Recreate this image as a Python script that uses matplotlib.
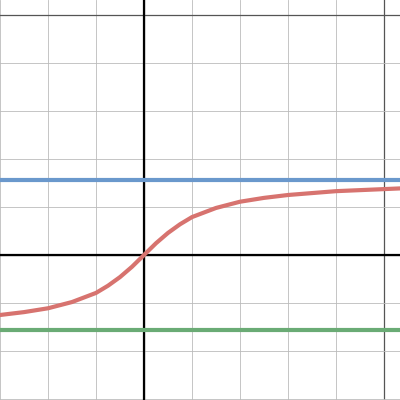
import matplotlib.pyplot as plt

# points
curve_x = [-3, -2.5, -2, -1.5, -1, -0.75, -0.5, -0.25, 0, 0.25, 0.5, 0.75, 1, 1.5, 2, 2.5, 3, 4, 5.4]
curve_y = [-1.25, -1.19, -1.11, -0.98, -0.79, -0.64, -0.46, -0.245, 0, 0.245, 0.46, 0.64, 0.79,
           0.98, 1.11, 1.19, 1.25, 1.33, 1.39]
upper_level = 1.5708
lower_level = -1.5708

fig = plt.figure(figsize=(4, 4), dpi=100)
ax = fig.add_axes([0, 0, 1, 1])
xmin, xmax = -3.0, 400 / 48 - 3.0
ymin, ymax = -145 / 48, 255 / 48
ax.set_xlim(xmin, xmax)
ax.set_ylim(ymin, ymax)
ax.axis('off')

for gx in range(-3, 6):
    ax.axvline(gx, color='#555555' if gx % 5 == 0 else '#bbbbbb', lw=0.9 if gx % 5 == 0 else 0.6, zorder=0)
for gy in range(-3, 6):
    ax.axhline(gy, color='#555555' if gy % 5 == 0 else '#bbbbbb', lw=0.9 if gy % 5 == 0 else 0.6, zorder=0)
ax.axvline(0, color='black', lw=1.6, zorder=1)
ax.axhline(0, color='black', lw=1.6, zorder=1)

ax.axhline(upper_level, color='#6a98cc', lw=3, zorder=2)
ax.axhline(lower_level, color='#6aab75', lw=3, zorder=2)
ax.plot(curve_x, curve_y, color='#d7736f', lw=3, zorder=3, solid_capstyle='round')

fig.savefig('out.png')
